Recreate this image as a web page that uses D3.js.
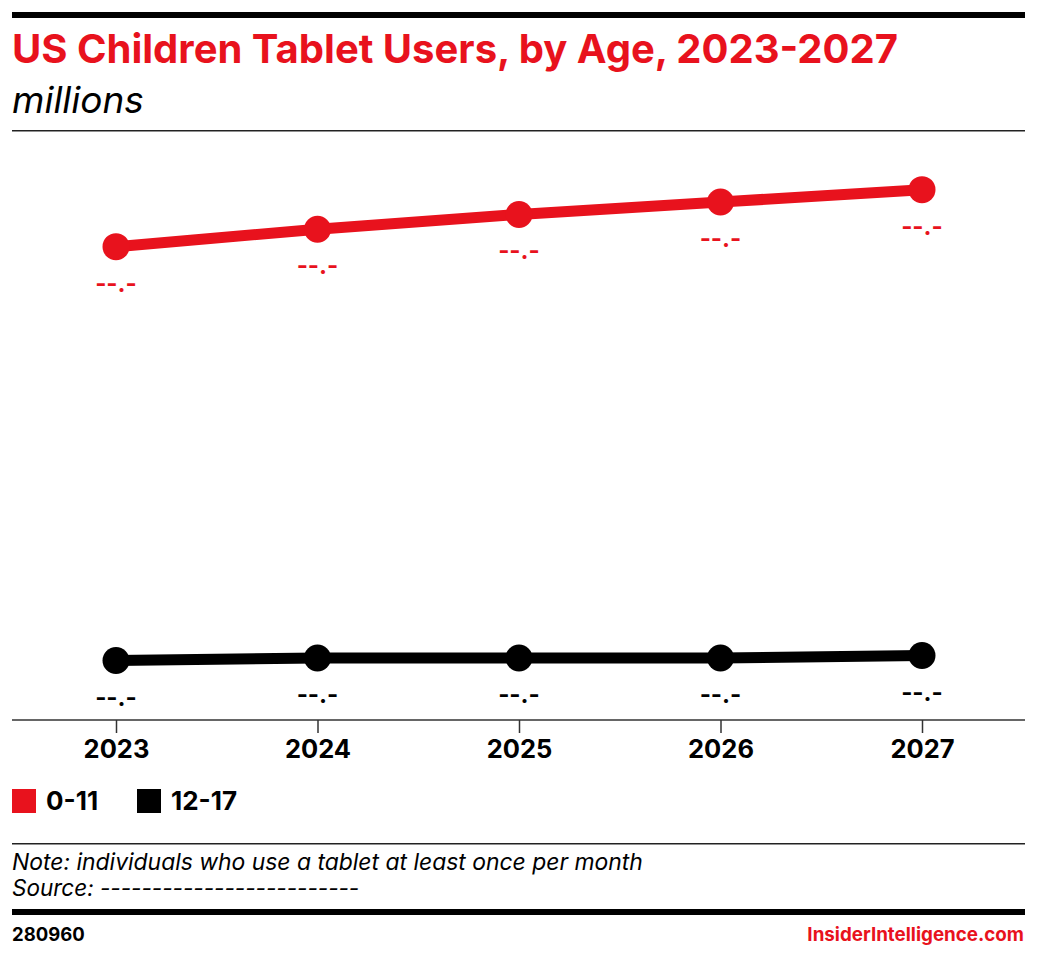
<!DOCTYPE html>
<html>
<head>
<meta charset="utf-8">
<script src="https://cdn.jsdelivr.net/npm/d3@7"></script>
<style>
  html, body { margin: 0; padding: 0; background: #fff; }
  svg { display: block; }
  text { font-family: Inter, "Noto Sans", sans-serif; }
</style>
</head>
<body>
<svg id="chart" width="1038" height="958"></svg>
<script>
const years = ["2023", "2024", "2025", "2026", "2027"];
const seriesNames = ["0-11", "12-17"];
const values0to11 = [31.1, 31.8, 32.4, 32.9, 33.4];
const values12to17 = [14.4, 14.5, 14.5, 14.5, 14.6];
const pointLabels0to11 = ["--.-", "--.-", "--.-", "--.-", "--.-"];
const pointLabels12to17 = ["--.-", "--.-", "--.-", "--.-", "--.-"];
const seriesColors = ["#E8121D", "#000000"];

const svg = d3.select("#chart");
const W = 1038, L = 12, R = 1025;

// top bar
svg.append("rect").attr("x", L).attr("y", 12).attr("width", R - L).attr("height", 6).attr("fill", "#000");
svg.append("text").attr("x", L).attr("y", 63).attr("fill", "#E8121D")
  .attr("font-size", 40).attr("font-weight", 700)
  .text("US Children Tablet Users, by Age, 2023-2027");
svg.append("text").attr("x", L).attr("y", 113).attr("fill", "#000")
  .attr("font-size", 37).attr("font-style", "italic")
  .text("millions");
svg.append("rect").attr("x", L).attr("y", 130).attr("width", R - L).attr("height", 1.5).attr("fill", "#222");

const x = d3.scalePoint().domain(years).range([116, 922]);
const y = d3.scaleLinear().domain([12, 35]).range([720, 150]);

// axis
const axis = d3.axisBottom(x).tickSize(13).tickPadding(8).tickSizeOuter(0);
const gx = svg.append("g").attr("transform", "translate(0,720)").call(axis);
gx.select(".domain").remove();
gx.selectAll(".tick line").attr("stroke", "#333").attr("stroke-width", 1.5);
gx.selectAll(".tick text").attr("font-size", 25.5).attr("font-weight", 700).attr("fill", "#000")
  .attr("font-family", "Inter, sans-serif").attr("dy", "0.68em");
svg.append("line").attr("x1", L).attr("x2", R).attr("y1", 720).attr("y2", 720)
  .attr("stroke", "#333").attr("stroke-width", 1.5);

const series = [
  { name: seriesNames[0], values: values0to11, labels: pointLabels0to11, color: seriesColors[0] },
  { name: seriesNames[1], values: values12to17, labels: pointLabels12to17, color: seriesColors[1] }
];

const line = d3.line().x((d, i) => x(years[i])).y(d => y(d));

series.forEach(s => {
  const g = svg.append("g");
  g.append("path").attr("d", line(s.values)).attr("fill", "none")
    .attr("stroke", s.color).attr("stroke-width", 11);
  g.selectAll("circle").data(s.values).join("circle")
    .attr("cx", (d, i) => x(years[i])).attr("cy", d => y(d)).attr("r", 13.5)
    .attr("fill", s.color);
  g.selectAll("text").data(s.values).join("text")
    .attr("x", (d, i) => x(years[i])).attr("y", d => y(d) + 45)
    .attr("text-anchor", "middle").attr("font-size", 24).attr("font-weight", 700)
    .attr("fill", s.color)
    .text((d, i) => s.labels[i]);
});

// legend
const legend = svg.append("g");
const legX = [12, 137];
series.forEach((s, i) => {
  legend.append("rect").attr("x", legX[i]).attr("y", 789).attr("width", 24).attr("height", 24).attr("fill", s.color);
  legend.append("text").attr("x", legX[i] + 34).attr("y", 810).attr("font-size", 26).attr("font-weight", 700)
    .attr("fill", "#000").text(s.name);
});

// footer
svg.append("rect").attr("x", L).attr("y", 843).attr("width", R - L).attr("height", 1.5).attr("fill", "#222");
svg.append("text").attr("x", L).attr("y", 870).attr("font-size", 22.9).attr("font-style", "italic").attr("fill", "#000")
  .text("Note: individuals who use a tablet at least once per month");
svg.append("text").attr("x", L).attr("y", 896).attr("font-size", 22.5).attr("font-style", "italic").attr("fill", "#000")
  .text("Source: -------------------------");
svg.append("rect").attr("x", L).attr("y", 909).attr("width", R - L).attr("height", 6).attr("fill", "#000");
svg.append("text").attr("x", L).attr("y", 941).attr("font-size", 18.5).attr("font-weight", 700).attr("fill", "#000")
  .text("280960");
svg.append("text").attr("x", R - 1).attr("y", 941).attr("text-anchor", "end").attr("font-size", 18.8).attr("font-weight", 700)
  .attr("fill", "#E8121D").text("InsiderIntelligence.com");
</script>
</body>
</html>
